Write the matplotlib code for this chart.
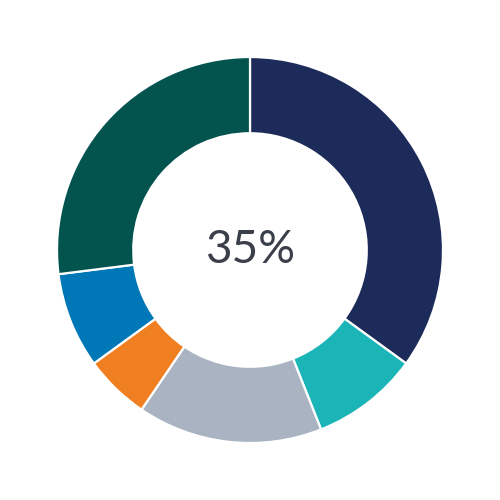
import matplotlib
matplotlib.use("Agg")
import matplotlib.pyplot as plt

categories = ["A", "B", "C", "D", "E", "F"]
values = [35, 9, 15.5, 5.5, 8, 27]
colors = ["#1d2b5a", "#1bb5b8", "#a9b3c1", "#f07f22", "#0077b6", "#03534f"]
center_label = "35%"

fig = plt.figure(figsize=(5, 5), dpi=100)
ax = fig.add_axes([0, 0, 1, 1])
ax.pie(values, colors=colors, startangle=90, counterclock=False,
       radius=1.0,
       wedgeprops=dict(width=0.395, edgecolor="white", linewidth=1.6))
lim = 250 / 193
ax.set_xlim(-lim, lim)
ax.set_ylim(-lim, lim)
ax.set_aspect("equal")
ax.axis("off")
ax.text(0, 0.0, center_label, ha="center", va="center", fontsize=33,
        color="#3a3f4a", family=["Lato", "DejaVu Sans"], fontweight="normal")
fig.savefig("out.png", dpi=100, facecolor="white")
